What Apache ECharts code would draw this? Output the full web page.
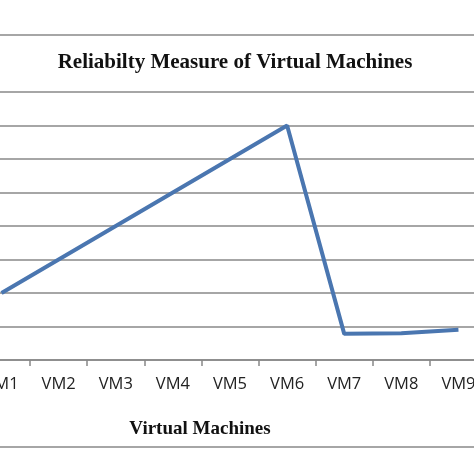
<!DOCTYPE html><html><head><meta charset="utf-8"><script src="https://cdn.jsdelivr.net/npm/echarts@6/dist/echarts.min.js"></script></head><body style="margin:0;overflow:hidden"><div id="c" style="width:514px;height:474px;margin-left:-27px"></div><script>
const categories=['VM1','VM2','VM3','VM4','VM5','VM6','VM7','VM8','VM9'];
const reliability=[2,3,4,5,6,7,0.78,0.8,0.9];
const chart=echarts.init(document.getElementById('c'));
chart.setOption({
 animation:false,
 title:{text:'Reliabilty Measure of Virtual Machines',left:257,textAlign:'center',top:47,textStyle:{fontFamily:'Liberation Serif',fontWeight:'bold',fontSize:21,color:'#111'}},
 grid:{left:0,right:0,top:92,bottom:114},
 xAxis:{type:'category',data:categories,boundaryGap:true,
  axisLine:{lineStyle:{color:'#888',width:1.5}},axisTick:{show:true,length:6,lineStyle:{color:'#888',width:1.5}},
  axisLabel:{fontFamily:'Open Sans',fontSize:16.5,color:'#222',margin:16},
  name:'Virtual Machines',nameLocation:'middle',nameGap:60,
  nameTextStyle:{fontFamily:'Liberation Serif',fontWeight:'bold',fontSize:19,color:'#111',padding:[0,60,0,0]}},
 yAxis:{type:'value',min:0,max:8,interval:1,axisLabel:{show:false},axisLine:{show:false},axisTick:{show:false},
  splitLine:{lineStyle:{color:'#888',width:1.5}}},
 graphic:[
  {type:'line',shape:{x1:0,y1:35,x2:514,y2:35},style:{stroke:'#888',lineWidth:1.5}},
  {type:'line',shape:{x1:0,y1:447,x2:514,y2:447},style:{stroke:'#888',lineWidth:1.5}}
 ],
 series:[{type:'line',data:reliability,symbol:'none',lineStyle:{color:'#4a76b0',width:4}}]
});
</script></body></html>
